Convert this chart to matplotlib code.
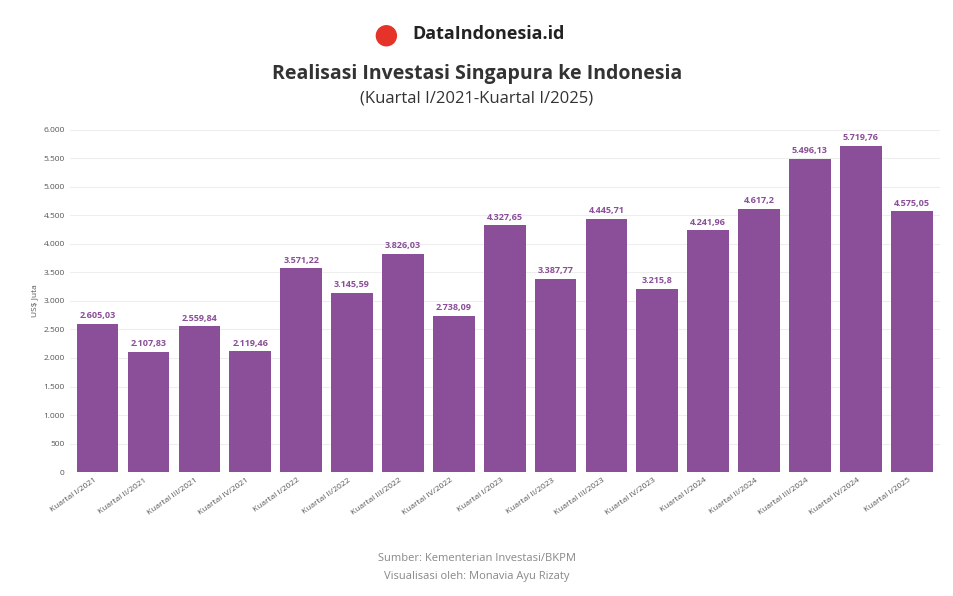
import matplotlib.pyplot as plt
from matplotlib.patches import Ellipse
import numpy as np

quarters = ["Kuartal I/2021", "Kuartal II/2021", "Kuartal III/2021", "Kuartal IV/2021",
            "Kuartal I/2022", "Kuartal II/2022", "Kuartal III/2022", "Kuartal IV/2022",
            "Kuartal I/2023", "Kuartal II/2023", "Kuartal III/2023", "Kuartal IV/2023",
            "Kuartal I/2024", "Kuartal II/2024", "Kuartal III/2024", "Kuartal IV/2024",
            "Kuartal I/2025"]
values = [2605.03, 2107.83, 2559.84, 2119.46, 3571.22, 3145.59, 3826.03, 2738.09,
          4327.65, 3387.77, 4445.71, 3215.8, 4241.96, 4617.2, 5496.13, 5719.76, 4575.05]

purple = "#8a4f98"
plt.rcParams['font.family'] = ['Open Sans', 'DejaVu Sans']


def fmt_id(v):
    # Indonesian format: dot for thousands, comma for decimals
    s = f"{v:,.2f}".rstrip("0").rstrip(".")
    return s.replace(",", "X").replace(".", ",").replace("X", ".")


W, H = 954, 596
fig = plt.figure(figsize=(W / 100, H / 100), dpi=100)
ax = fig.add_axes([0.073, 0.208, 0.912, 0.574])

x = np.arange(len(values))
ax.bar(x, values, width=0.82, color=purple, zorder=2)
for xi, v in zip(x, values):
    ax.text(xi, v + 60, fmt_id(v), ha="center", va="bottom", fontsize=6.5,
            color=purple, fontweight="bold")

ax.set_xlim(-0.55, len(values) - 0.45)
ax.set_ylim(0, 6000)
yt = np.arange(0, 6001, 500)
ax.set_yticks(yt)
ax.set_yticklabels([f"{int(t):,}".replace(",", ".") for t in yt], fontsize=6, color="#555555")
ax.set_xticks(x)
ax.set_xticklabels(quarters, rotation=35, ha="right", fontsize=6, color="#555555")
ax.tick_params(length=0)
ax.grid(axis="y", color="#eeeeee", linewidth=0.8, zorder=0)
for s in ax.spines.values():
    s.set_visible(False)
ax.set_ylabel("US$ Juta", fontsize=6, color="#555555")

# logo mark + site name (circle of 20 px)
fig.patches.append(Ellipse((0.405, 0.940), 20 / W, 20 / H,
                           transform=fig.transFigure, color="#e63329", figure=fig))
fig.text(0.432, 0.943, "DataIndonesia.id", ha="left", va="center", fontsize=13,
         fontweight="bold", color="#222222")
fig.text(0.5, 0.876, "Realisasi Investasi Singapura ke Indonesia", ha="center", va="center",
         fontsize=14, fontweight="bold", color="#333333")
fig.text(0.5, 0.834, "(Kuartal I/2021-Kuartal I/2025)", ha="center", va="center",
         fontsize=12, color="#333333")
fig.text(0.5, 0.063, "Sumber: Kementerian Investasi/BKPM", ha="center", va="center",
         fontsize=8, color="#888888")
fig.text(0.5, 0.032, "Visualisasi oleh: Monavia Ayu Rizaty", ha="center", va="center",
         fontsize=8, color="#888888")

fig.savefig("out.png", dpi=100)
